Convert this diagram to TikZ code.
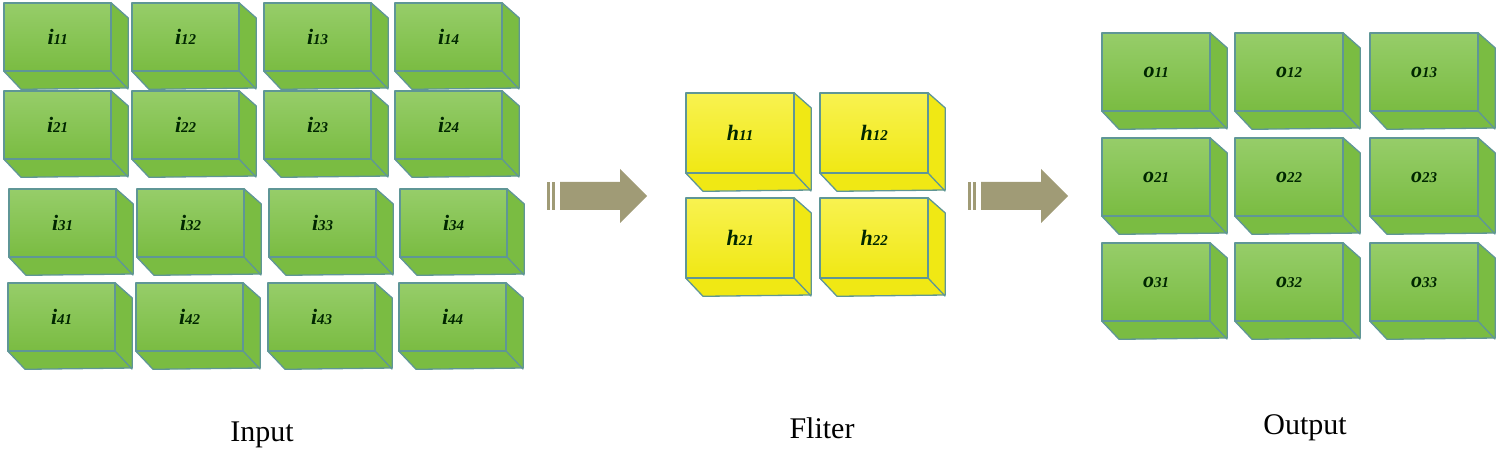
\documentclass[tikz,border=0pt]{standalone}
\usepackage{fontspec}
\setmainfont{Liberation Serif}
\definecolor{gA}{RGB}{122,188,66}
\definecolor{gB}{RGB}{150,205,105}
\definecolor{yA}{RGB}{240,232,20}
\definecolor{yB}{RGB}{248,242,80}
\definecolor{edg}{RGB}{95,150,150}
\definecolor{arr}{RGB}{160,155,118}
\tikzset{
  face/.style={draw=edg,line width=1.3pt,line join=round},
  lab/.style={font=\fontsize{22}{22}\selectfont\itshape\bfseries,text=black!85!green},
  captxt/.style={font=\fontsize{30}{30}\selectfont},
  bigarrow/.style={fill=arr,draw=none}
}
\newcommand\mybox[9]{%
  \node[face,anchor=north west,minimum width=#4pt,minimum height=#5pt,inner sep=0pt,
        top color=#7,bottom color=#6] (#1) at (#2pt,-#3pt) {};
  \fill[#6,face] (#1.north east) -- ++(17pt,-15pt) -- ++(0,-#5pt) -- ++(0,-3pt)
     -- ([shift={(17pt,-18pt)}]#1.south west) -- (#1.south west) -- (#1.south east) -- (#1.north east) -- cycle;
  \draw[face] (#1.south east) -- ++(17pt,-18pt);
  \draw[face] (#1.north west) rectangle (#1.south east);
  \node[lab] at (#1.center) {#8{\fontsize{15}{15}\selectfont #9}};
}
\begin{document}
\begin{tikzpicture}
\useasboundingbox (0,0) rectangle (1502pt,-462pt);
\foreach \r/\y/\dx in {1/3/0,2/91/0,3/189/5,4/283/4}{
  \foreach \c/\x in {1/4,2/132,3/264,4/395}{
    \mybox{i\r\c}{\x+\dx}{\y}{106}{67}{gA}{gB}{i}{\r\c}
  }
}
\foreach \r/\y in {1/93,2/198}{
  \foreach \c/\x in {1/686,2/820}{
    \mybox{h\r\c}{\x}{\y}{107}{79}{yA}{yB}{h}{\r\c}
  }
}
\foreach \r/\y in {1/33,2/138,3/243}{
  \foreach \c/\x in {1/1102,2/1235,3/1370}{
    \mybox{o\r\c}{\x}{\y}{107}{77}{gA}{gB}{o}{\r\c}
  }
}
\foreach \n/\x in {a1/547,a2/968}{
  \fill[bigarrow] (\x pt,-182pt) rectangle ++(3pt,-28pt);
  \fill[bigarrow] (\x pt+5pt,-182pt) rectangle ++(3pt,-28pt);
  \fill[bigarrow] (\x pt+13pt,-182pt) -- ++(60pt,0) -- ++(0,13pt) -- ++(27pt,-27pt)
     -- ++(-27pt,-27pt) -- ++(0,13pt) -- ++(-60pt,0) -- cycle;
}
\node[captxt] (tin) at (262pt,-435pt) {Input};
\node[captxt] (tfl) at (822pt,-428pt) {Fliter};
\node[captxt] (tout) at (1305pt,-428pt) {Output};
\end{tikzpicture}
\end{document}
